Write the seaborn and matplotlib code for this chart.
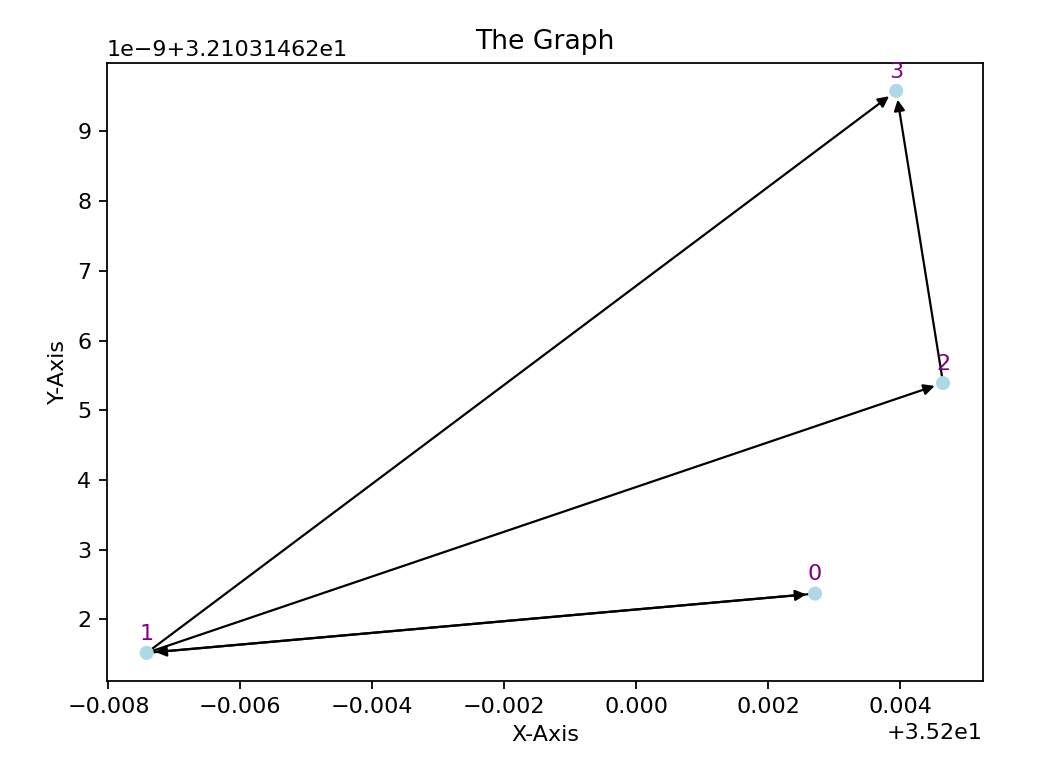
import matplotlib
matplotlib.use("Agg")
import matplotlib.pyplot as plt
import seaborn as sns
import pandas as pd

nodes = ["0", "1", "2", "3"]
x_vals = [35.20271, 35.19258, 35.20465, 35.20394]
y_vals = [32.1031462 + 2.37e-9, 32.1031462 + 1.52e-9, 32.1031462 + 5.39e-9, 32.1031462 + 9.58e-9]
edges = [(1, 0), (0, 1), (1, 3), (1, 2), (2, 3)]

df = pd.DataFrame({"x": x_vals, "y": y_vals, "node": nodes})
fig, ax = plt.subplots(figsize=(6.6125, 4.7875), dpi=160)
fig.subplots_adjust(left=0.101, right=0.929, top=0.918, bottom=0.111)
for a, b in edges:
    ax.annotate("", xy=(x_vals[b], y_vals[b]), xytext=(x_vals[a], y_vals[a]),
                arrowprops=dict(arrowstyle="-|>", color="black", lw=1, shrinkA=3, shrinkB=4))
sns.scatterplot(data=df, x="x", y="y", ax=ax, color="lightblue", s=40, edgecolor="none", zorder=3)
for xi, yi, n in zip(x_vals, y_vals, nodes):
    ax.annotate(n, (xi, yi), xytext=(0, 6), textcoords="offset points", ha="center", color="purple")
ax.ticklabel_format(axis="x", useOffset=35.2)
ax.ticklabel_format(axis="y", useOffset=32.1031462)
ax.set_title("The Graph")
ax.set_xlabel("X-Axis")
ax.set_ylabel("Y-Axis")
fig.savefig("out.png")
